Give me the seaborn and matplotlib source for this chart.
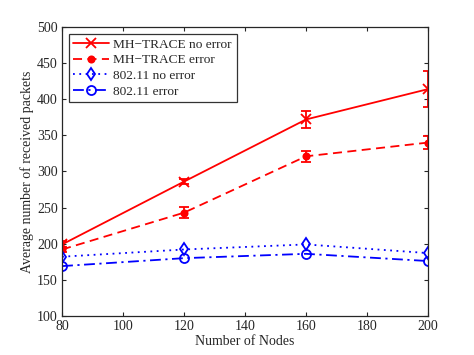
import matplotlib

matplotlib.use("Agg")
import matplotlib.pyplot as plt
import pandas as pd
import seaborn as sns

nodes = [80, 120, 160, 200]
mh_no_error = [199, 286, 372, 414]
mh_no_error_err = [5, 4, 12, 25]
mh_error = [192, 243, 321, 340]
mh_error_err = [3, 8, 8, 9]
wifi_no_error = [182, 192, 199, 187]
wifi_error = [169, 180, 186, 176]

series = [
    ("MH\u2212TRACE no error", mh_no_error, mh_no_error_err, "red", "-", "x"),
    ("MH\u2212TRACE error", mh_error, mh_error_err, "red", (0, (5, 3)), "o"),
    ("802.11 no error", wifi_no_error, None, "blue", (0, (1, 2.5)), "d"),
    ("802.11 error", wifi_error, None, "blue", (0, (6, 2.5, 1.2, 2.5)), "o"),
]

sns.set_theme(style="ticks")
plt.rcParams["font.family"] = ["Liberation Serif", "DejaVu Serif"]

fig = plt.figure(figsize=(4.74, 3.55), dpi=100)
ax = fig.add_axes([0.131, 0.110, 0.772, 0.814])

for label, vals, err, color, ls, marker in series:
    df = pd.DataFrame({"nodes": nodes, "value": vals})
    filled = label == "MH\u2212TRACE error"
    sns.lineplot(
        data=df, x="nodes", y="value", ax=ax, color=color, linestyle=ls,
        linewidth=1.3, marker=marker, markersize=4.5 if filled else 6.5,
        markerfacecolor=color if filled else "none", markeredgecolor=color,
        markeredgewidth=1.3, label=label,
    )
    if err is not None:
        ax.errorbar(nodes, vals, yerr=err, fmt="none", ecolor=color,
                    elinewidth=1.3, capsize=3.5, capthick=1.3)

ax.set_xlim(80, 200)
ax.set_ylim(100, 500)
ax.set_xticks(range(80, 201, 20))
ax.set_yticks(range(100, 501, 50))
ax.tick_params(direction="in", top=True, right=True, labelsize=10, length=3, width=0.8, pad=3)
for s in ax.spines.values():
    s.set_linewidth(0.9)
ax.set_xlabel("Number of Nodes", fontsize=10, labelpad=1)
ax.set_ylabel("Average number of received packets", fontsize=10, labelpad=2)

leg = ax.legend(loc="upper left", fontsize=9.6, frameon=True, fancybox=False,
                edgecolor="black", borderpad=0.35, labelspacing=0.25,
                handlelength=2.7, handletextpad=0.3, borderaxespad=0.5)
leg.get_frame().set_linewidth(0.9)

fig.savefig("out.png", dpi=100)
